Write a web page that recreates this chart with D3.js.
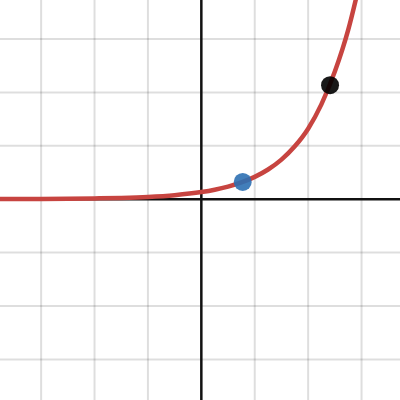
<!DOCTYPE html>
<html>
<head>
<meta charset="utf-8">
<script src="https://cdn.jsdelivr.net/npm/d3@7"></script>
<style>
  html, body { margin: 0; padding: 0; background: #fff; }
  svg { display: block; }
</style>
</head>
<body>
<svg id="chart" width="400" height="400"></svg>
<script>
// grid ticks (graph units)
var xTicks = [-3, -2, -1, 1, 2, 3];
var yTicks = [-3, -2, -1, 1, 2, 3];

// curve
var curveX = [-3.8, -3, -2, -1.5, -1, -0.5, 0, 0.25, 0.5, 0.75, 1, 1.25, 1.5, 1.75, 2, 2.25, 2.5, 2.75, 3];
var curveY = [0.002, 0.004, 0.014, 0.024, 0.042, 0.075, 0.133, 0.177, 0.236, 0.314, 0.418, 0.556, 0.741, 0.99, 1.32, 1.78, 2.39, 3.17, 4.2];

// the two marked points
var pointX = [0.775, 2.41];
var pointY = [0.324, 2.135];
var pointColor = ["#2d70b3", "#000000"];

var width = 400, height = 400;
var svg = d3.select("#chart");

var x = d3.scaleLinear().domain([-3.77, 3.72]).range([0, width]);
var y = d3.scaleLinear().domain([-3.76, 3.73]).range([height, 0]);

svg.append("defs").append("clipPath").attr("id", "clip")
    .append("rect").attr("width", width).attr("height", height);

var g = svg.append("g").attr("clip-path", "url(#clip)");

// grid lines
g.selectAll(".vgrid").data(xTicks).enter().append("line")
    .attr("class", "vgrid")
    .attr("x1", function(d) { return x(d); })
    .attr("x2", function(d) { return x(d); })
    .attr("y1", 0).attr("y2", height)
    .attr("stroke", "#000").attr("stroke-opacity", 0.13).attr("stroke-width", 2);

g.selectAll(".hgrid").data(yTicks).enter().append("line")
    .attr("class", "hgrid")
    .attr("y1", function(d) { return y(d); })
    .attr("y2", function(d) { return y(d); })
    .attr("x1", 0).attr("x2", width)
    .attr("stroke", "#000").attr("stroke-opacity", 0.13).attr("stroke-width", 2);

// axes
g.append("line")
    .attr("x1", x(0)).attr("x2", x(0)).attr("y1", 0).attr("y2", height)
    .attr("stroke", "#111").attr("stroke-width", 2.5);
g.append("line")
    .attr("y1", y(0)).attr("y2", y(0)).attr("x1", 0).attr("x2", width)
    .attr("stroke", "#111").attr("stroke-width", 2.5);

// curve
var pts = curveX.map(function(d, i) { return [d, curveY[i]]; });
var line = d3.line()
    .x(function(d) { return x(d[0]); })
    .y(function(d) { return y(d[1]); })
    .curve(d3.curveMonotoneX);

g.append("path")
    .datum(pts)
    .attr("d", line)
    .attr("fill", "none")
    .attr("stroke", "#c74440")
    .attr("stroke-width", 4.5)
    .attr("stroke-linecap", "round");

// points
g.selectAll(".pt").data(pointX).enter().append("circle")
    .attr("class", "pt")
    .attr("cx", function(d) { return x(d); })
    .attr("cy", function(d, i) { return y(pointY[i]); })
    .attr("r", 9)
    .attr("fill", function(d, i) { return pointColor[i]; })
    .attr("fill-opacity", 0.9);
</script>
</body>
</html>
